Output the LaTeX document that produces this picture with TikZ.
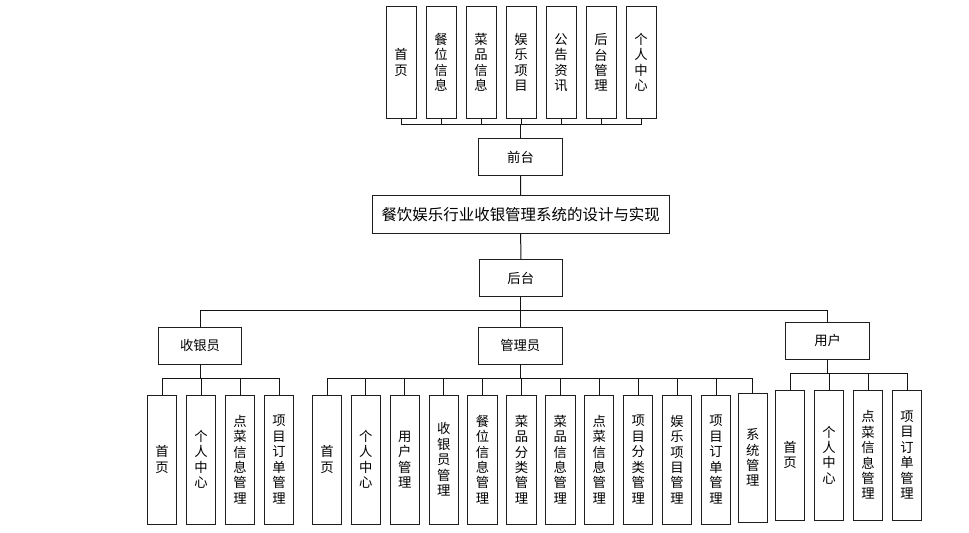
\documentclass[tikz,border=0pt]{standalone}
\usepackage{fontspec}
\setmainfont{Noto Sans CJK SC}
\usepackage{tikz}
\usetikzlibrary{positioning}
\definecolor{boxclr}{RGB}{30, 30, 30}
\definecolor{lineclr}{RGB}{20, 20, 20}
\tikzset{
  % 横排文字框
  catbox/.style  = {draw=boxclr, line width=0.75pt, minimum width=62.7pt,
                    minimum height=28pt, inner sep=0pt,
                    font=\fontsize{10}{12}\selectfont},
  titlebox/.style= {catbox, minimum width=222.5pt, minimum height=28.2pt,
                    font=\fontsize{11.6}{13}\selectfont},
  % 竖排文字框
  vbox/.style    = {draw=boxclr, line width=0.75pt, minimum width=22pt,
                    minimum height=96.75pt, inner sep=0pt, align=center,
                    font=\fontsize{10}{11.6}\selectfont},
  topbox/.style  = {vbox, minimum width=22.5pt, minimum height=84pt},
  % 连线
  link/.style    = {line width=0.75pt, lineclr},
}

\begin{document}
\begin{tikzpicture}[x=0.75pt, y=-0.75pt]
  \useasboundingbox (0,0) rectangle (969,532);
  % 前台功能
  \foreach \t [count=\i, evaluate=\i as \x using 361+40*\i] in
      {首\\页, 餐\\位\\信\\息, 菜\\品\\信\\息, 娱\\乐\\项\\目,
       公\\告\\资\\讯, 后\\台\\管\\理, 个\\人\\中\\心}
    \node[topbox] (t\i) at (\x,62.5) {\t};
  \node[catbox] (qt) at (520.5,157) {前台};
  \node[titlebox] (sys) at (520.7,214.5) {餐饮娱乐行业收银管理系统的设计与实现};
  \node[catbox] (ht) at (520.8,278) {后台};
  % 三个角色
  \node[catbox] (cash) at (200,345.8) {收银员};
  \node[catbox] (admin) at (520.3,345.8) {管理员};
  \node[catbox] (user) at (827.7,340.8) {用户};
  % 收银员功能
  \foreach \t [count=\i, evaluate=\i as \x using 123+39*\i] in
      {首\\页, 个\\人\\中\\心, 点\\菜\\信\\息\\管\\理, 项\\目\\订\\单\\管\\理}
    \node[vbox] (c\i) at (\x,459.5) {\t};
  % 管理员功能
  \foreach \t [count=\i, evaluate=\i as \x using 288.1+38.9*\i] in
      {首\\页, 个\\人\\中\\心, 用\\户\\管\\理, 收\\银\\员\\管\\理,
       餐\\位\\信\\息\\管\\理, 菜\\品\\分\\类\\管\\理, 菜\\品\\信\\息\\管\\理,
       点\\菜\\信\\息\\管\\理, 项\\目\\分\\类\\管\\理, 娱\\乐\\项\\目\\管\\理,
       项\\目\\订\\单\\管\\理}
    \node[vbox] (a\i) at (\x,459.5) {\t};
  \node[vbox] (a12) at (752.9,457.5) {系\\统\\管\\理};
  % 用户功能
  \foreach \t [count=\i, evaluate=\i as \x using 751+39*\i] in
      {首\\页, 个\\人\\中\\心, 点\\菜\\信\\息\\管\\理, 项\\目\\订\\单\\管\\理}
    \node[vbox, minimum height=97.5pt] (u\i) at (\x,455) {\t};
  % 连线
  \foreach \i in {1,...,7}
    \draw[link] (qt.north) -- ++(0,-13.3) -| (t\i.south);
  \draw[link] (qt.south) -- (sys.north);
  \draw[link] (sys.south) -- (ht.north);
  \foreach \n in {cash,admin,user}
    \draw[link] (ht.south) -- ++(0,13.3) -| (\n.north);
  \foreach \i in {1,...,4}
    \draw[link] (cash.south) -- ++(0,14) -| (c\i.north);
  \foreach \i in {1,...,12}
    \draw[link] (admin.south) -- ++(0,13.4) -| (a\i.north);
  \foreach \i in {1,...,4}
    \draw[link] (user.south) -- ++(0,14) -| (u\i.north);
\end{tikzpicture}
\end{document}
